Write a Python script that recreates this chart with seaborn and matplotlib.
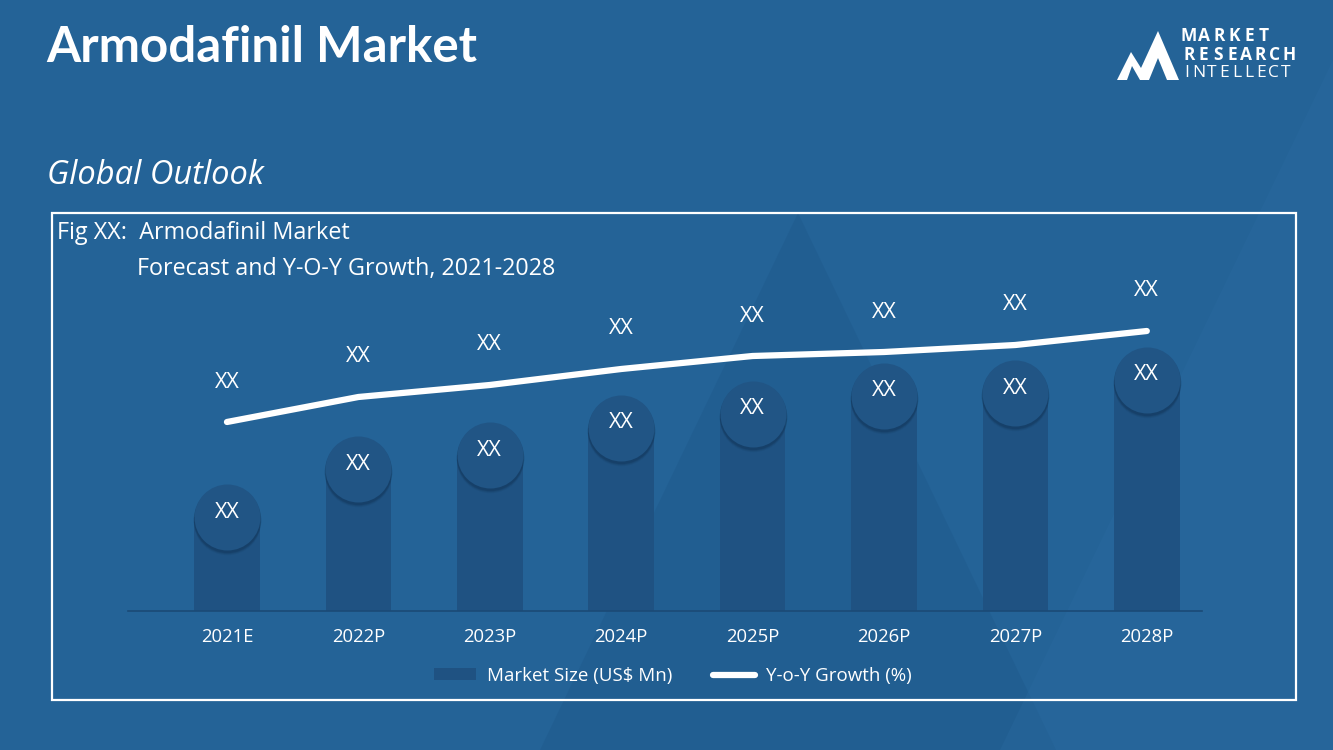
import numpy as np
import pandas as pd
import matplotlib
matplotlib.use("Agg")
import matplotlib.pyplot as plt
import matplotlib.transforms as mtransforms
from matplotlib.patches import Polygon, Rectangle, Patch
from matplotlib.lines import Line2D
import seaborn as sns

# ---- data ----
years = ["2021E", "2022P", "2023P", "2024P", "2025P", "2026P", "2027P", "2028P"]
market_size = [94, 142, 156, 183, 197, 215, 218, 231]
yoy_growth = [189, 214, 226, 242, 255, 259, 266, 280]
bar_labels = ["XX"] * 8
line_labels = ["XX"] * 8

BG = "#246397"
BAR = "#1f5282"
CIRCLE = "#215585"
SHADOW = "#0e2c4a"
WHITE = "#ffffff"
FONT = ["Open Sans", "DejaVu Sans"]

sns.set_theme(style="white")
plt.rcParams["font.family"] = ["Lato", "DejaVu Sans"]

W, H = 1333, 750
fig = plt.figure(figsize=(W / 100, H / 100), dpi=100, facecolor=BG)

def fx(px):
    return px / W

def fy(py):
    return 1 - py / H

# background decoration (faint triangles), behind everything
fig.patches.append(Polygon([(fx(798), fy(213)), (fx(540), fy(750)), (fx(1056), fy(750))],
                           closed=True, transform=fig.transFigure, facecolor="#1d5688",
                           alpha=0.35, edgecolor="none", zorder=-2))
fig.patches.append(Polygon([(fx(1333), fy(60)), (fx(1000), fy(750)), (fx(1333), fy(750))],
                           closed=True, transform=fig.transFigure, facecolor="#2a6aa0",
                           alpha=0.35, edgecolor="none", zorder=-2))

# white frame
fig.patches.append(Rectangle((fx(52), fy(700)), fx(1296) - fx(52), fy(213) - fy(700),
                             transform=fig.transFigure, fill=False, edgecolor=WHITE,
                             linewidth=1.6, zorder=1))

# ---- axes ----
ax = fig.add_axes([fx(128.4), fy(611), fx(1202) - fx(128.4), 400 / H])
ax.set_facecolor("none")
ax.set_zorder(3)

df = pd.DataFrame({"year": years, "size": market_size, "growth": yoy_growth})
df["pos"] = np.arange(len(years))

sns.barplot(data=df, x="year", y="size", color=BAR, saturation=1, width=0.5, ax=ax,
            zorder=2, edgecolor="none", linewidth=0)

# circle shadows and circles at bar tops
diam_pt = 66 * 72 / 100
for k, a in [(4.0, 0.10), (3.0, 0.15), (2.0, 0.25)]:
    off = mtransforms.offset_copy(ax.transData, fig=fig, x=0, y=-k, units="dots")
    ax.scatter(df["pos"], df["size"], s=(diam_pt + 1.0) ** 2, color=SHADOW, alpha=a,
               linewidths=0, transform=off, zorder=3)
sns.scatterplot(data=df, x="pos", y="size", s=diam_pt ** 2, color=CIRCLE, linewidth=0,
                ax=ax, zorder=4, legend=False)
for p, v, t in zip(df["pos"], df["size"], bar_labels):
    ax.text(p, v + 5, t, ha="center", va="center", color=WHITE, fontsize=15.5,
            family=FONT, zorder=5)

# growth line
sns.lineplot(data=df, x="pos", y="growth", color=WHITE, linewidth=4.5, ax=ax, zorder=6,
             legend=False)
for p, v, t in zip(df["pos"], df["growth"], line_labels):
    ax.text(p, v + 40, t, ha="center", va="center", color=WHITE, fontsize=15.5,
            family=FONT, zorder=6)

ax.set_xlim(-0.75, 7.42)
ax.set_ylim(0, 400)
ax.set_xlabel("")
ax.set_ylabel("")
ax.set_yticks([])
ax.set_xticks(range(len(years)))
ax.set_xticklabels(years, color=WHITE, fontsize=13.3, family=FONT)
ax.tick_params(axis="x", length=0, pad=12)
for s in ["top", "right", "left"]:
    ax.spines[s].set_visible(False)
ax.spines["bottom"].set_color("#1b4a76")
ax.spines["bottom"].set_linewidth(1.2)
ax.spines["bottom"].set_zorder(7)

# legend
handles = [Patch(facecolor=BAR, edgecolor="none", label="Market Size (US$ Mn)"),
           Line2D([0], [0], color=WHITE, linewidth=4.5, label="Y-o-Y Growth (%)")]
leg = fig.legend(handles=handles, loc="center", bbox_to_anchor=(fx(673), fy(676)), ncol=2,
                 frameon=False, handlelength=2.2, handletextpad=0.6, handleheight=0.6,
                 columnspacing=2.2, prop={"family": FONT, "size": 13.5})
for t in leg.get_texts():
    t.set_color(WHITE)

# titles
fig.text(fx(46), fy(47), "Armodafinil Market", color=WHITE, fontsize=35.5, fontweight="bold",
         ha="left", va="center")
fig.text(fx(47), fy(176), "Global Outlook", color=WHITE, fontsize=23.5, style="italic",
         ha="left", va="center", family=FONT)
fig.text(fx(57), fy(233), "Fig XX:  Armodafinil Market", color=WHITE, fontsize=16.8,
         ha="left", va="center", family=FONT)
fig.text(fx(137), fy(269), "Forecast and Y-O-Y Growth, 2021-2028", color=WHITE, fontsize=16.8,
         ha="left", va="center", family=FONT)

# logo
logo = [(1117, 80), (1131, 52), (1141, 68), (1158, 31), (1179, 80), (1167, 80),
        (1158, 58), (1149, 80), (1140, 80), (1132, 66), (1127, 80)]
fig.patches.append(Polygon([(fx(x), fy(y)) for x, y in logo], closed=True,
                           transform=fig.transFigure, facecolor=WHITE, edgecolor="none",
                           zorder=2))
for word, y, wgt, x0, x1 in [("MARKET", 36, "bold", 1185, 1260),
                             ("RESEARCH", 55, "bold", 1185, 1285),
                             ("INTELLECT", 73, "normal", 1183, 1282)]:
    step = (x1 - x0) / (len(word) - 1)
    for i, ch in enumerate(word):
        fig.text(fx(x0 + i * step + 4), fy(y), ch, color=WHITE, fontsize=12.5, fontweight=wgt,
                 ha="center", va="center", family=FONT)

fig.savefig("out.png", dpi=100, facecolor=BG)
